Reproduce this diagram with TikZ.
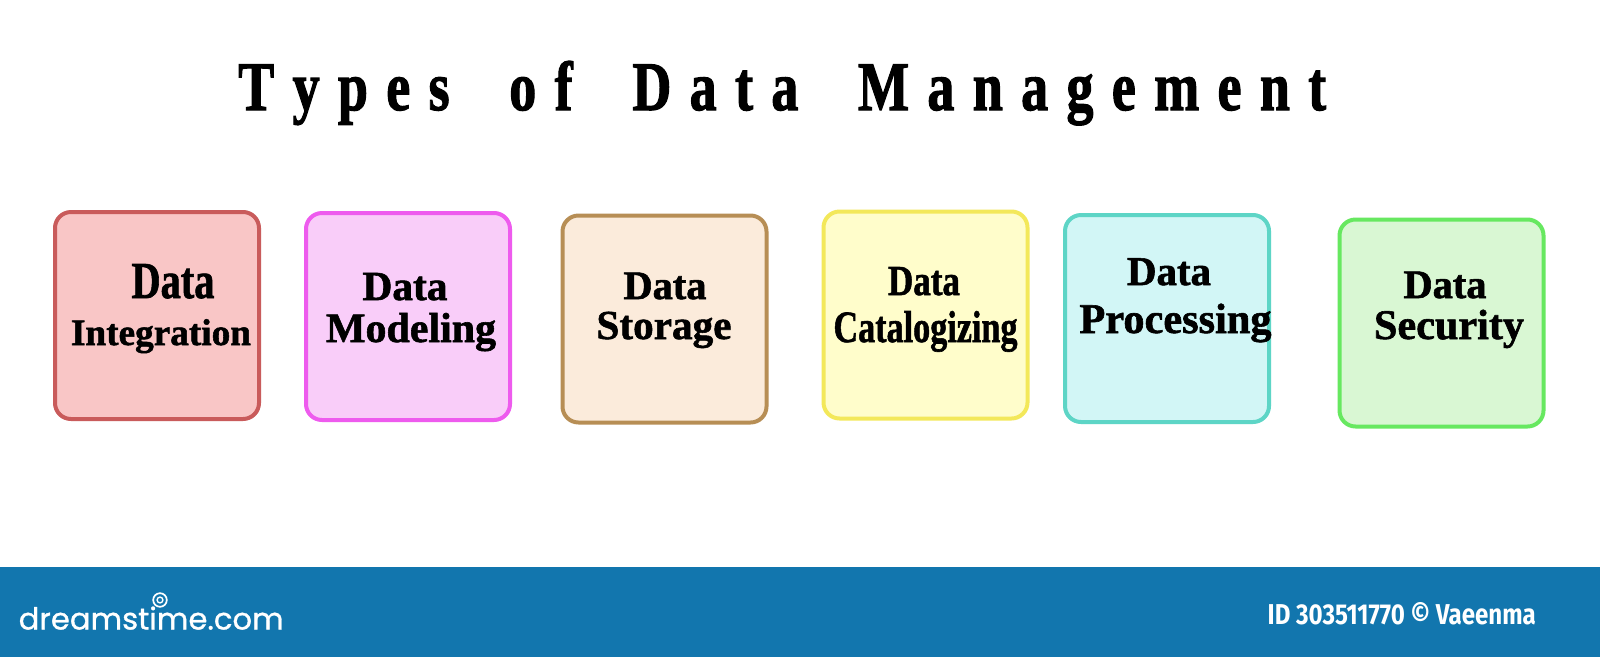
\documentclass[tikz,border=0pt]{standalone}
\usepackage{fontspec}
\usepackage{graphicx}
\setmainfont{Liberation Serif}
\newfontfamily\lblfont{Liberation Serif Bold}[FakeBold=1.4]
\newfontfamily\ttlfont{Liberation Serif Bold}[FakeBold=1.8]
\newfontfamily\poppinsfont{Poppins}[FakeBold=1]
\newfontfamily\idfont{Fira Sans}
\definecolor{b1d}{HTML}{C95B5B}\definecolor{b1f}{HTML}{F9C6C6}
\definecolor{b2d}{HTML}{EE5BEE}\definecolor{b2f}{HTML}{F9CDF9}
\definecolor{b3d}{HTML}{B78E55}\definecolor{b3f}{HTML}{FBEBDB}
\definecolor{b4d}{HTML}{F3E85A}\definecolor{b4f}{HTML}{FFFDCB}
\definecolor{b5d}{HTML}{5DD5C6}\definecolor{b5f}{HTML}{D2F6F6}
\definecolor{b6d}{HTML}{67E860}\definecolor{b6f}{HTML}{D9F7D3}
\definecolor{barblue}{HTML}{1276AE}
\newcommand\fitline[3]{\resizebox{#1pt}{#2}{\lblfont #3}}
\newcommand\tg{\hspace{23pt}}
\newcommand\tw{\hspace{75pt}}
\begin{document}
\begin{tikzpicture}[x=1pt,y=-1pt,
  box/.style={line width=4pt, rounded corners=16pt, minimum width=204pt, minimum height=207pt, inner sep=0pt},
  lbl/.style={anchor=base, inner sep=0pt, text=black}]
\fill[white] (0,0) rectangle (1600,657);
\useasboundingbox (0,0) rectangle (1600,657);
% title
\node[anchor=base west, inner sep=0pt] (title) at (238,110)
  {\resizebox{1088pt}{49pt}{\fontsize{68}{70}\ttlfont T\tg y\tg p\tg e\tg s\tw o\tg f\tw D\tg a\tg t\tg a\tw M\tg a\tg n\tg a\tg g\tg e\tg m\tg e\tg n\tg t}};
% boxes
\node[box, draw=b1d, fill=b1f] (b1) at (157,315.5) {};
\node[box, draw=b2d, fill=b2f] (b2) at (408,316.5) {};
\node[box, draw=b3d, fill=b3f] (b3) at (664.5,319) {};
\node[box, draw=b4d, fill=b4f] (b4) at (925.5,315) {};
\node[box, draw=b5d, fill=b5f] (b5) at (1167,318.5) {};
\node[box, draw=b6d, fill=b6f] (b6) at (1441.5,323) {};
% labels
\node[lbl] (t1a) at (173,298) {\fitline{83}{34pt}{Data}};
\node[lbl] (t1b) at (161,345) {\fitline{180}{!}{Integration}};
\node[lbl] (t2a) at (405,300) {\fitline{85}{!}{Data}};
\node[lbl] (t2b) at (411,342) {\fitline{170}{!}{Modeling}};
\node[lbl] (t3a) at (665,299) {\fitline{83}{!}{Data}};
\node[lbl] (t3b) at (664,339) {\fitline{135}{!}{Storage}};
\node[lbl] (t4a) at (924,295) {\fitline{72}{28pt}{Data}};
\node[lbl] (t4b) at (925.5,342) {\fitline{184}{31pt}{Catalogizing}};
\node[lbl] (t5a) at (1169,285) {\fitline{84}{!}{Data}};
\node[lbl] (t5b) at (1175.5,333) {\fitline{192}{!}{Processing}};
\node[lbl] (t6a) at (1445,298) {\fitline{83}{!}{Data}};
\node[lbl] (t6b) at (1449,339) {\fitline{150}{!}{Security}};
% bottom bar
\fill[barblue] (0,567) rectangle (1600,657);
\node[anchor=base west, inner sep=0pt, text=white] (brand) at (18.5,629.5)
  {\resizebox{265pt}{23pt}{\poppinsfont dreamstime.com}};
\draw[white, line width=1.7pt] (160,600) circle (6.8);
\draw[white, line width=1.4pt] (160,600) circle (2.9);
\node[anchor=base east, inner sep=0pt, text=white] (credit) at (1536,624.5)
  {\resizebox{268pt}{22pt}{\idfont\bfseries ID 303511770 © Vaeenma}};
\end{tikzpicture}
\end{document}
